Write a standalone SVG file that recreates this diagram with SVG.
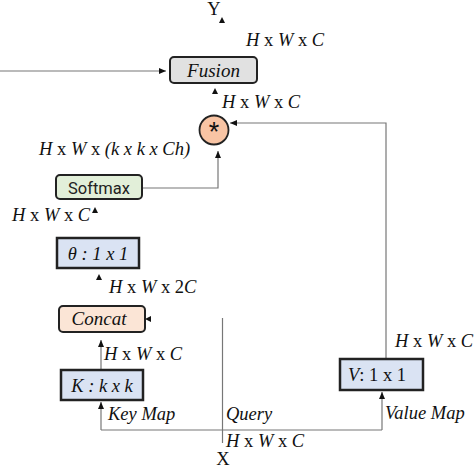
<svg xmlns="http://www.w3.org/2000/svg" width="474" height="468" viewBox="0 0 474 468">
<defs>
<marker id="arr" markerWidth="8" markerHeight="8" refX="7" refY="4" orient="auto" markerUnits="userSpaceOnUse">
<path d="M0,1 L7,4 L0,7 Z" fill="#111"/>
</marker>
<style>
.t{font-family:"Liberation Serif","Times New Roman",serif;font-size:18.5px;fill:#111}
.b{font-size:19px}
.i{font-style:italic}
.ln{fill:none;stroke:#777;stroke-width:1.2}
.ah{fill:#111}
.box{stroke:#222;stroke-width:2}
.sq{stroke:#222;stroke-width:2.5}
</style>
</defs>
<rect width="474" height="468" fill="#fff"/>
<g id="connectors">
<path class="ln" d="M0 71 H166" marker-end="url(#arr)"/>
<path class="ln" d="M142 188 H218 V151" marker-end="url(#arr)"/>
<path class="ln" d="M386 359 V123 H230" marker-end="url(#arr)"/>
<path class="ln" d="M222.5 443 V318"/>
<path class="ln" d="M101 430 H382"/>
<path class="ln" d="M101 430 V402" marker-end="url(#arr)"/>
<path class="ln" d="M382 430 V392" marker-end="url(#arr)"/>
<path class="ln" d="M101 370 V340" marker-end="url(#arr)"/>
<polygon class="ah" points="222,17 219,23 225,23"/>
<polygon class="ah" points="215,88 212,94 218,94"/>
<polygon class="ah" points="95,207 92,213 98,213"/>
<polygon class="ah" points="99,274 96,280 102,280"/>
<polygon class="ah" points="145,319 151,316 151,322"/>
</g>
<g id="Y"><text class="t" x="214" y="15" text-anchor="middle" font-size="19">Y</text></g>
<g id="X"><text class="t" x="223" y="465" text-anchor="middle" font-size="19">X</text></g>
<g id="fusion">
<rect class="box" x="170" y="57" width="87" height="26" rx="4" fill="#e1e1e1"/>
<text class="t b i" x="213.5" y="77" text-anchor="middle">Fusion</text>
</g>
<g id="mult">
<circle cx="214" cy="130" r="14.5" fill="#f8c4a4" stroke="#222" stroke-width="1.8"/>
<text x="214" y="141" text-anchor="middle" font-family="Liberation Sans, Arial, sans-serif" font-size="27" fill="#111">*</text>
</g>
<g id="softmax">
<rect class="box" x="56" y="175" width="86" height="24" rx="4" fill="#e2efd9"/>
<text x="99" y="194" text-anchor="middle" font-family="Roboto, 'Liberation Sans', sans-serif" font-size="16.5" fill="#222">Softmax</text>
</g>
<g id="theta">
<rect class="sq" x="57" y="238" width="82" height="30" fill="#dae3f3"/>
<text class="t i" x="98" y="260" text-anchor="middle" font-size="20">θ : 1 x 1</text>
</g>
<g id="concat">
<rect class="box" x="59" y="306" width="86" height="26" rx="4" fill="#fbe5d6"/>
<text class="t b i" x="99" y="325" text-anchor="middle">Concat</text>
</g>
<g id="key">
<rect class="sq" x="61" y="370" width="82" height="30" fill="#dae3f3"/>
<text class="t i" x="102" y="392" text-anchor="middle" font-size="20">K : k x k</text>
</g>
<g id="value">
<rect class="sq" x="340" y="359" width="83" height="31" fill="#dae3f3"/>
<text class="t" x="377" y="381" text-anchor="middle" font-size="19.5"><tspan class="i">V</tspan>: 1 x 1</text>
</g>
<g id="labels">
<text class="t" x="246" y="46"><tspan class="i">H</tspan> x <tspan class="i">W</tspan> x <tspan class="i">C</tspan></text>
<text class="t" x="222" y="108"><tspan class="i">H</tspan> x <tspan class="i">W</tspan> x <tspan class="i">C</tspan></text>
<text class="t" x="39" y="155"><tspan class="i">H</tspan> x <tspan class="i">W</tspan> x <tspan class="i">(k x k x Ch)</tspan></text>
<text class="t" x="12" y="221"><tspan class="i">H</tspan> x <tspan class="i">W</tspan> x <tspan class="i">C</tspan></text>
<text class="t" x="109" y="293"><tspan class="i">H</tspan> x <tspan class="i">W</tspan> x 2<tspan class="i">C</tspan></text>
<text class="t" x="104" y="360"><tspan class="i">H</tspan> x <tspan class="i">W</tspan> x <tspan class="i">C</tspan></text>
<text class="t" x="395" y="347"><tspan class="i">H</tspan> x <tspan class="i">W</tspan> x <tspan class="i">C</tspan></text>
<text class="t i" x="108" y="420">Key Map</text>
<text class="t i" x="226" y="420">Query</text>
<text class="t i" x="385" y="419">Value Map</text>
<text class="t" x="226" y="447"><tspan class="i">H</tspan> x <tspan class="i">W</tspan> x <tspan class="i">C</tspan></text>
</g>
</svg>
